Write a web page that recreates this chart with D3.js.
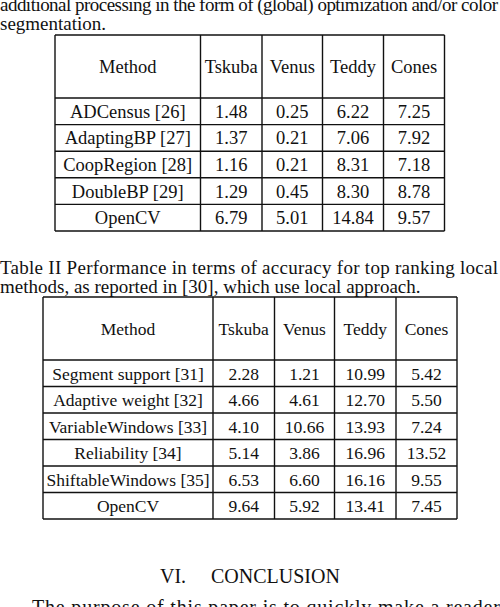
<!DOCTYPE html>
<html><head><meta charset="utf-8">
<script src="https://cdn.jsdelivr.net/npm/d3@7"></script>
<style>
body{margin:0;background:#fff;}
svg text{font-family:"Liberation Serif","Times New Roman",serif;fill:#111;}
</style></head>
<body><svg id="page" width="500" height="607"></svg>
<script>
// table I
var columns = ["Method", "Tskuba", "Venus", "Teddy", "Cones"];
var methods1 = ["ADCensus [26]", "AdaptingBP [27]", "CoopRegion [28]", "DoubleBP [29]", "OpenCV"];
var tskuba1 = ["1.48", "1.37", "1.16", "1.29", "6.79"];
var venus1 = ["0.25", "0.21", "0.21", "0.45", "5.01"];
var teddy1 = ["6.22", "7.06", "8.31", "8.30", "14.84"];
var cones1 = ["7.25", "7.92", "7.18", "8.78", "9.57"];
// table II
var methods2 = ["Segment support [31]", "Adaptive weight [32]", "VariableWindows [33]", "Reliability [34]", "ShiftableWindows [35]", "OpenCV"];
var tskuba2 = ["2.28", "4.66", "4.10", "5.14", "6.53", "9.64"];
var venus2 = ["1.21", "4.61", "10.66", "3.86", "6.60", "5.92"];
var teddy2 = ["10.99", "12.70", "13.93", "16.96", "16.16", "13.41"];
var cones2 = ["5.42", "5.50", "7.24", "13.52", "9.55", "7.45"];

var svg = d3.select("#page");

function drawTable(colEdges, top, headH, rowH, rows, fs) {
    var g = svg.append("g");
    var bottom = top + headH + rowH * rows.length;
    var y = d3.scaleBand().domain(d3.range(rows.length)).range([top + headH, bottom]);
    var x = d3.scaleOrdinal().domain(columns).range(colEdges.slice(0, -1));
    var w = function(c) { var i = columns.indexOf(c); return colEdges[i + 1] - colEdges[i]; };

    // grid
    g.selectAll("line.v").data(colEdges).enter().append("line")
        .attr("x1", function(d) { return d; }).attr("x2", function(d) { return d; })
        .attr("y1", top).attr("y2", bottom).attr("stroke", "#111").attr("stroke-width", 1.4);
    var hs = [top].concat(d3.range(rows.length).map(function(i) { return y(i); }), [bottom]);
    g.selectAll("line.h").data(hs).enter().append("line")
        .attr("x1", colEdges[0]).attr("x2", colEdges[colEdges.length - 1])
        .attr("y1", function(d) { return d; }).attr("y2", function(d) { return d; })
        .attr("stroke", "#111").attr("stroke-width", 1.4);

    g.selectAll("text.head").data(columns).enter().append("text")
        .attr("x", function(c) { return x(c) + w(c) / 2; })
        .attr("y", top + headH / 2 + 6)
        .attr("text-anchor", "middle").attr("font-size", fs)
        .text(function(c) { return c; });

    rows.forEach(function(r, i) {
        g.selectAll(null).data(r).enter().append("text")
            .attr("x", function(d, j) { return x(columns[j]) + w(columns[j]) / 2; })
            .attr("y", y(i) + y.bandwidth() / 2 + 6.5)
            .attr("text-anchor", "middle").attr("font-size", fs)
            .text(function(d) { return d; });
    });
}

var rows1 = methods1.map(function(m, i) { return [m, tskuba1[i], venus1[i], teddy1[i], cones1[i]]; });
var rows2 = methods2.map(function(m, i) { return [m, tskuba2[i], venus2[i], teddy2[i], cones2[i]]; });

function para(lines, x0, x1, y0, lh, lastJust) {
    lines.forEach(function(l, i) {
        var t = svg.append("text").attr("x", x0).attr("y", y0 + i * lh).attr("font-size", 19).text(l);
        if (i < lines.length - 1 || lastJust) t.attr("textLength", x1 - x0).attr("lengthAdjust", "spacing");
    });
}

para(["additional processing in the form of (global) optimization and/or color", "segmentation."], 0, 498, 11, 19, false);
drawTable([55, 200.5, 262, 322.5, 383.5, 444.5], 35, 63, 26.6, rows1, 18.5);
para(["Table II Performance in terms of accuracy for top ranking local", "methods, as reported in [30], which use local approach."], 0, 498, 274, 19, false);
drawTable([43, 213, 274.5, 334.5, 396, 457], 297, 63, 26.5, rows2, 17.5);

svg.append("text").attr("x", 160).attr("y", 583).attr("font-size", 20).text("VI.");
svg.append("text").attr("x", 211).attr("y", 583).attr("font-size", 20).text("CONCLUSION");
svg.append("text").attr("x", 32).attr("y", 614).attr("font-size", 20)
    .attr("textLength", 468).attr("lengthAdjust", "spacing")
    .text("The purpose of this paper is to quickly make a reader");
</script></body></html>
